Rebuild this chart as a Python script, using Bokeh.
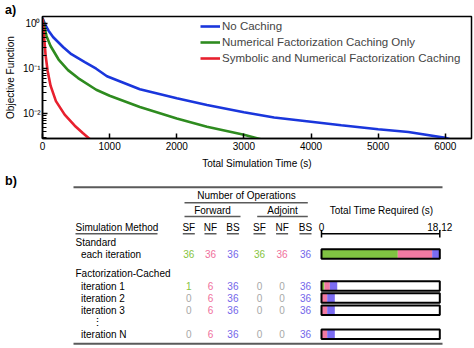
from bokeh.plotting import figure
from bokeh.layouts import column
from bokeh.models import Range1d, FixedTicker, Legend, LegendItem, Title
from bokeh.core.properties import value
from bokeh.embed import file_html
from bokeh.resources import INLINE

FONT = "Liberation Sans"

# ---------------- panel a data ----------------
t_none = [0, 40, 90, 160, 310, 430, 630, 800, 960, 1450, 2000, 2450, 3000, 3450, 4000, 4450, 5000, 5450, 6000, 6100]
f_none = [1.35, 0.95, 0.70, 0.50, 0.30, 0.21, 0.14, 0.10, 0.068, 0.035, 0.022, 0.0155, 0.0107, 0.0082, 0.0066, 0.0055, 0.0045, 0.0039, 0.0029, 0.0026]
t_num = [0, 25, 60, 120, 240, 380, 530, 800, 1000, 1450, 2000, 2450, 3000, 3250]
f_num = [1.3, 0.9, 0.53, 0.32, 0.16, 0.093, 0.062, 0.034, 0.025, 0.014, 0.0078, 0.0051, 0.0034, 0.0027]
t_sym = [0, 12, 27, 46, 76, 120, 200, 330, 480, 600, 720]
f_sym = [1.3, 0.8, 0.45, 0.2, 0.09, 0.042, 0.019, 0.0095, 0.0054, 0.0037, 0.0026]
series_names = ["No Caching", "Numerical Factorization Caching Only",
                "Symbolic and Numerical Factorization Caching"]
x_ticks = [0, 1000, 2000, 3000, 4000, 5000, 6000]
y_ticks = [0.01, 0.1, 1.0]
y_tick_labels = ["10⁻²", "10⁻¹", "10⁰"]

# ---------------- panel b data ----------------
row_labels = ["each iteration", "iteration 1", "iteration 2", "iteration 3", "iteration N"]
fwd_sf = [36, 1, 0, 0, 0]
fwd_nf = [36, 6, 6, 6, 6]
fwd_bs = [36, 36, 36, 36, 36]
adj_sf = [36, 0, 0, 0, 0]
adj_nf = [36, 0, 0, 0, 0]
adj_bs = [36, 36, 36, 36, 36]
time_sf = [11.69, 0.45, 0.0, 0.0, 0.0]
time_nf = [5.26, 0.83, 0.87, 0.87, 0.87]
time_bs = [1.17, 1.13, 1.17, 1.17, 1.17]
time_max = 18.12
time_ticks = [0, 18.12]
time_tick_labels = ["0", "18.12"]
col_headers = ["SF", "NF", "BS", "SF", "NF", "BS"]

C_BLUE, C_GREEN, C_RED = "#1a36dc", "#2e8b1f", "#e8202e"
C_SF, C_NF, C_BS, C_ZERO = "#86c440", "#f0709c", "#7366ea", "#a8a8a8"
C_SF_BAR, C_NF_BAR, C_BS_BAR = "#80c342", "#f27aa2", "#7b6cf2"

# ---------------- top figure ----------------
p = figure(width=474, height=172, x_range=Range1d(0, 6390), y_range=Range1d(0.0028, 1.45),
           y_axis_type="log", output_backend="svg", toolbar_location=None,
           min_border_left=42, min_border_right=3, min_border_top=13, min_border_bottom=34)
p.title = Title(text="a)", align="left", offset=-37.5, standoff=0,
                text_font=FONT, text_font_size="12.5px", text_font_style="bold",
                text_line_height=1.0, text_color="black")
p.frame_align = False
p.grid.visible = False
p.outline_line_color = "black"
p.outline_line_width = 1.5
p.background_fill_color = "white"
p.border_fill_color = "white"

r1 = p.line(t_none, f_none, line_color=C_BLUE, line_width=2.6)
r2 = p.line(t_num, f_num, line_color=C_GREEN, line_width=2.6)
r3 = p.line(t_sym, f_sym, line_color=C_RED, line_width=2.6)

minor = []
for d in [0.001, 0.01, 0.1, 1.0]:
    for m in range(2, 10):
        minor.append(round(m * d, 6))

p.xaxis.ticker = FixedTicker(ticks=x_ticks)
p.yaxis.ticker = FixedTicker(ticks=y_ticks, minor_ticks=minor)
p.yaxis.major_label_overrides = {k: v for k, v in zip(y_ticks, y_tick_labels)}
for ax in (p.xaxis[0], p.yaxis[0]):
    ax.axis_line_width = 1.5
    ax.axis_line_color = "black"
    ax.major_tick_line_color = "black"
    ax.major_tick_line_width = 1.5
    ax.major_tick_out = 0
    ax.major_tick_in = 5
    ax.minor_tick_out = 0
    ax.major_label_text_font = FONT
    ax.major_label_text_font_size = "10px"
    ax.major_label_text_color = "black"
    ax.axis_label_text_font = FONT
    ax.axis_label_text_font_size = "10px"
    ax.axis_label_text_font_style = "normal"
    ax.axis_label_text_color = "black"
p.xaxis.minor_tick_in = 0
p.yaxis.minor_tick_in = 4
p.yaxis.minor_tick_line_color = "black"
p.yaxis.minor_tick_line_width = 1.2
p.xaxis.major_label_standoff = 3
p.yaxis.major_label_standoff = 2
p.xaxis.axis_label = "Total Simulation Time (s)"
p.yaxis.axis_label = "Objective Function"
p.xaxis.axis_label_standoff = 5
p.yaxis.axis_label_standoff = 4

legend = Legend(items=[LegendItem(label=series_names[0], renderers=[r1]),
                       LegendItem(label=series_names[1], renderers=[r2]),
                       LegendItem(label=series_names[2], renderers=[r3])],
                location=(158, 72))
legend.border_line_color = None
legend.background_fill_alpha = 0
legend.padding = 0
legend.margin = 0
legend.spacing = 0
legend.glyph_width = 20
legend.glyph_height = 16
legend.label_height = 16
legend.label_standoff = 2
legend.label_text_font = FONT
legend.label_text_font_size = "11.5px"
p.add_layout(legend)

# ---------------- bottom figure (table) ----------------
px_per_s = (439.3 - 321.0) / time_max
q = figure(width=474, height=176, x_range=Range1d(0, 474), y_range=Range1d(348, 172),
           x_axis_type=None, y_axis_type=None, output_backend="svg", toolbar_location=None,
           title=None, min_border=0)
q.frame_align = False
q.outline_line_color = None
q.extra_x_ranges = {"time": Range1d(-321.0 / px_per_s, (474 - 321.0) / px_per_s)}

def txt(x, y, s, color="black", align="center", size="10px", style="normal", rng="default"):
    q.text(x=[x], y=[y], text=[s], text_color=color, text_align=align, text_baseline="middle",
           text_font=value(FONT), text_font_size=size, text_font_style=style, x_range_name=rng)

RULE = "#5a5a5a"
q.segment(x0=[73, 73], y0=[186.7, 343.3], x1=[442, 442], y1=[186.7, 343.3],
          line_color=RULE, line_width=2)

txt(4.5, 180, "b)", size="12.5px", style="bold", align="left")
txt(246, 195, "Number of Operations")
txt(212, 210, "Forward")
txt(282, 210, "Adjoint")
txt(381, 210, "Total Time Required (s)")
q.segment(x0=[184, 184, 256.7], y0=[202.3, 216, 216], x1=[307.3, 240, 307.3], y1=[202.3, 216, 216],
          line_color=RULE, line_width=1.5)

txt(75, 227.3, "Simulation Method", align="left")
q.segment(x0=[75], y0=[233.3], x1=[157], y1=[233.3], line_color=RULE, line_width=1.5)

col_x = [188.3, 210, 232.4, 259, 281.6, 305]
for cx, h in zip(col_x, col_headers):
    txt(cx, 227.3, h)
q.segment(x0=[cx - 6 for cx in col_x], y0=[233.3] * 6, x1=[cx + 6 for cx in col_x], y1=[233.3] * 6,
          line_color=RULE, line_width=1.5)

# time axis
for tv, tl in zip(time_ticks, time_tick_labels):
    txt(tv, 226.5, tl, rng="time")
q.segment(x0=[time_ticks[0]], y0=[233.3], x1=[time_ticks[-1]], y1=[233.3],
          line_color="black", line_width=1.5, x_range_name="time")
q.segment(x0=time_ticks, y0=[229.5] * 2, x1=time_ticks, y1=[237] * 2,
          line_color="black", line_width=1.5, x_range_name="time")

rows_y = [253.5, 285.5, 297.6, 309.7, 333.7]
txt(75, 242.3, "Standard", align="left")
txt(75, 272.7, "Factorization-Cached", align="left")
for yy, lab in zip(rows_y, row_labels):
    txt(80.5, yy, lab, align="left")
txt(97, 321.5, "⋮", size="11px")

cols = [fwd_sf, fwd_nf, fwd_bs, adj_sf, adj_nf, adj_bs]
col_colors = [C_SF, C_NF, C_BS, C_SF, C_NF, C_BS]
for cx, vals, cc in zip(col_x, cols, col_colors):
    for yy, v in zip(rows_y, vals):
        txt(cx, yy, str(v), color=(cc if v != 0 else C_ZERO))

# bars
bar_h = 9.5
nf_left = time_sf
nf_right = [a + b for a, b in zip(time_sf, time_nf)]
bs_right = [a + b for a, b in zip(nf_right, time_bs)]
q.hbar(y=rows_y, left=0, right=time_max, height=bar_h, fill_color="white", line_color=None,
       x_range_name="time")
q.hbar(y=rows_y, left=0, right=time_sf, height=bar_h, fill_color=C_SF_BAR, line_color=None,
       x_range_name="time")
q.hbar(y=rows_y, left=nf_left, right=nf_right, height=bar_h, fill_color=C_NF_BAR, line_color=None,
       x_range_name="time")
q.hbar(y=rows_y, left=nf_right, right=bs_right, height=bar_h, fill_color=C_BS_BAR, line_color=None,
       x_range_name="time")
q.hbar(y=rows_y, left=0, right=time_max, height=bar_h, fill_color=None, line_color="black",
       line_width=2, x_range_name="time")

layout = column(p, q, spacing=0)
open("out.html", "w").write(file_html(layout, INLINE))
